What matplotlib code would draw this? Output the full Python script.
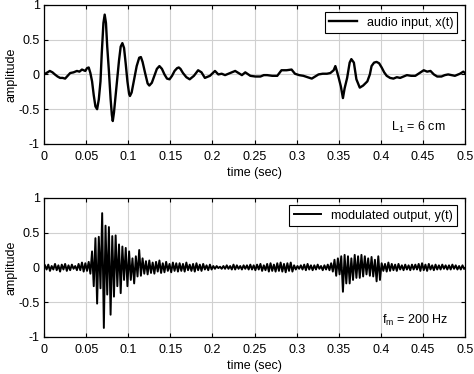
import matplotlib.pyplot as plt
import numpy as np
from matplotlib.ticker import FormatStrFormatter

plt.rcParams['font.family'] = ['Liberation Sans', 'DejaVu Sans']
plt.rcParams['axes.unicode_minus'] = False
plt.rcParams['mathtext.default'] = 'regular'

# audio input x(t): points
t_in = [0.0, 0.004, 0.0068, 0.010, 0.0128, 0.016, 0.019, 0.022, 0.025, 0.028, 0.031,
        0.035, 0.039, 0.042, 0.045, 0.049, 0.051, 0.053, 0.055, 0.057, 0.059,
        0.061, 0.063, 0.065, 0.067, 0.0685, 0.0705, 0.072, 0.0735, 0.075, 0.077,
        0.079, 0.0805, 0.0816, 0.083, 0.085, 0.087, 0.089, 0.091, 0.093, 0.095,
        0.097, 0.099, 0.101, 0.102, 0.104, 0.107, 0.110, 0.113, 0.115, 0.117,
        0.120, 0.123, 0.125, 0.128, 0.131, 0.134, 0.137, 0.140, 0.143, 0.146,
        0.149, 0.152, 0.155, 0.158, 0.160, 0.162, 0.165, 0.169, 0.173, 0.178,
        0.183, 0.187, 0.191, 0.197, 0.203, 0.207, 0.211, 0.215, 0.221, 0.227,
        0.231, 0.235, 0.239, 0.245, 0.251, 0.257, 0.261, 0.265, 0.271, 0.277,
        0.282, 0.288, 0.294, 0.298, 0.303, 0.308, 0.313, 0.318, 0.322, 0.326,
        0.331, 0.336, 0.340, 0.344, 0.346, 0.348, 0.350, 0.3525, 0.355, 0.357,
        0.360, 0.363, 0.365, 0.368, 0.371, 0.375, 0.379, 0.384, 0.387, 0.389,
        0.392, 0.395, 0.398, 0.401, 0.404, 0.407, 0.411, 0.415, 0.419, 0.423,
        0.427, 0.431, 0.436, 0.441, 0.446, 0.451, 0.455, 0.459, 0.463, 0.467,
        0.472, 0.476, 0.480, 0.484, 0.488, 0.494, 0.498, 0.5]
x_in = [0.0, 0.03, 0.05, 0.03, 0.0, -0.03, -0.05, -0.05, -0.06, -0.02, 0.02,
        0.03, 0.05, 0.04, 0.07, 0.05, 0.09, 0.10, 0.02, -0.10, -0.30,
        -0.46, -0.50, -0.36, -0.10, 0.30, 0.74, 0.86, 0.74, 0.40, 0.05,
        -0.35, -0.58, -0.67, -0.55, -0.30, -0.05, 0.20, 0.40, 0.45, 0.38,
        0.15, -0.10, -0.28, -0.31, -0.26, -0.07, 0.12, 0.24, 0.25, 0.18,
        0.02, -0.13, -0.16, -0.12, -0.02, 0.08, 0.12, 0.08, 0.0, -0.06,
        -0.07, -0.02, 0.05, 0.09, 0.10, 0.08, 0.02, -0.04, -0.07, -0.02,
        0.06, 0.03, -0.05, -0.02, 0.05, 0.0, 0.01, -0.01, 0.02, 0.05,
        0.02, -0.01, 0.03, -0.02, -0.03, -0.03, -0.01, -0.01, -0.02, -0.02,
        0.06, 0.06, 0.07, 0.01, -0.01, -0.02, -0.04, -0.06, -0.03, 0.0,
        0.01, 0.01, 0.02, 0.06, 0.12, 0.04, -0.05, -0.17, -0.34, -0.20,
        -0.05, 0.17, 0.22, 0.17, -0.07, -0.19, -0.16, -0.10, 0.0, 0.12,
        0.17, 0.18, 0.16, 0.10, 0.03, -0.02, -0.05, -0.06, -0.04, -0.05,
        -0.03, -0.01, -0.02, -0.02, 0.02, 0.06, 0.04, 0.05, 0.0, -0.03,
        -0.03, -0.01, 0.0, -0.01, -0.02, 0.01, 0.04, 0.02]

# modulated output y(t): positive / negative peak of each 4 ms cycle
cycle = 0.004
mod_pos = [0.03, 0.04, 0.02, 0.05, 0.03, 0.04, 0.05, 0.03, 0.04, 0.02,
           0.05, 0.07, 0.06, 0.08, 0.23, 0.42, 0.44, 0.78, 0.60, 0.58,
           0.45, 0.46, 0.33, 0.30, 0.28, 0.23, 0.13, 0.16, 0.25, 0.13,
           0.09, 0.10, 0.07, 0.08, 0.10, 0.06, 0.08, 0.05, 0.07, 0.06,
           0.06, 0.05, 0.07, 0.04, 0.05, 0.06, 0.04, 0.05, 0.03, 0.04,
           0.02, 0.02, 0.01, 0.02, 0.03, 0.02, 0.04, 0.03, 0.02, 0.03,
           0.03, 0.04, 0.03, 0.04, 0.05, 0.03, 0.05, 0.06, 0.04, 0.06,
           0.07, 0.05, 0.06, 0.07, 0.03, 0.02, 0.03, 0.04, 0.05, 0.03,
           0.03, 0.04, 0.02, 0.03, 0.04, 0.06, 0.11, 0.13, 0.16, 0.18,
           0.16, 0.13, 0.18, 0.16, 0.18, 0.16, 0.13, 0.15, 0.11, 0.16,
           0.06, 0.05, 0.07, 0.05, 0.04, 0.05, 0.03, 0.04, 0.03, 0.04,
           0.04, 0.05, 0.06, 0.04, 0.05, 0.03, 0.04, 0.03, 0.04, 0.03,
           0.03, 0.04, 0.03, 0.02, 0.03]
mod_neg = [-0.03, -0.05, -0.03, -0.04, -0.06, -0.03, -0.05, -0.04, -0.02, -0.04,
           -0.04, -0.06, -0.05, -0.09, -0.27, -0.52, -0.30, -0.87, -0.39, -0.68,
           -0.42, -0.27, -0.37, -0.18, -0.27, -0.18, -0.23, -0.13, -0.12, -0.09,
           -0.10, -0.08, -0.09, -0.06, -0.08, -0.07, -0.05, -0.07, -0.05, -0.06,
           -0.05, -0.06, -0.04, -0.05, -0.06, -0.04, -0.05, -0.03, -0.04, -0.03,
           -0.02, -0.01, -0.02, -0.02, -0.02, -0.03, -0.03, -0.02, -0.03, -0.02,
           -0.03, -0.03, -0.04, -0.03, -0.05, -0.04, -0.06, -0.05, -0.06, -0.05,
           -0.06, -0.07, -0.05, -0.06, -0.03, -0.02, -0.03, -0.04, -0.03, -0.04,
           -0.03, -0.02, -0.04, -0.03, -0.04, -0.06, -0.12, -0.10, -0.35, -0.23,
           -0.23, -0.18, -0.15, -0.15, -0.13, -0.10, -0.12, -0.13, -0.20, -0.18,
           -0.05, -0.06, -0.05, -0.04, -0.05, -0.03, -0.04, -0.03, -0.04, -0.03,
           -0.03, -0.05, -0.04, -0.05, -0.03, -0.04, -0.03, -0.03, -0.02, -0.03,
           -0.03, -0.02, -0.03, -0.03, -0.02]

t_mod = []
y_mod = []
for i, (p, n) in enumerate(zip(mod_pos, mod_neg)):
    t_mod += [0.001 + cycle * i, 0.003 + cycle * i]
    y_mod += [p, n]

xticks = np.arange(0, 0.501, 0.05)
yticks = [-1, -0.5, 0, 0.5, 1]

fig = plt.figure(figsize=(4.74, 3.74), dpi=100)
ax1 = fig.add_axes([0.093, 0.615, 0.888, 0.372])
ax2 = fig.add_axes([0.093, 0.099, 0.888, 0.372])

ax1.plot(t_in, x_in, color='black', lw=1.7, label='audio input, x(t)')
ax2.plot(t_mod, y_mod, color='black', lw=1.4, label='modulated output, y(t)')

for ax in (ax1, ax2):
    ax.set_xlim(0, 0.5)
    ax.set_ylim(-1, 1)
    ax.set_xticks(xticks)
    ax.set_yticks(yticks)
    ax.xaxis.set_major_formatter(FormatStrFormatter('%g'))
    ax.yaxis.set_major_formatter(FormatStrFormatter('%g'))
    ax.grid(True, color='#d0d0d0', lw=0.8)
    ax.set_axisbelow(True)
    ax.tick_params(direction='in', top=True, right=True, labelsize=9, length=3)
    ax.tick_params(axis='x', pad=5)
    ax.tick_params(axis='y', pad=3)
    for s in ax.spines.values():
        s.set_linewidth(0.9)
    ax.set_xlabel('time (sec)', fontsize=9, labelpad=3)
    ax.set_ylabel('amplitude', fontsize=9, labelpad=1)
    leg = ax.legend(loc='upper right', fontsize=9, frameon=True, fancybox=False,
                    framealpha=1, edgecolor='black', borderpad=0.35,
                    handlelength=2.2, borderaxespad=0.6)
    leg.get_frame().set_linewidth(0.8)

ax1.text(0.955, 0.12, 'L$_1$ = 6 cm', transform=ax1.transAxes, fontsize=9, ha='right', va='center')
ax2.text(0.96, 0.12, 'f$_m$ = 200 Hz', transform=ax2.transAxes, fontsize=9, ha='right', va='center')

fig.savefig('out.png', dpi=100)
